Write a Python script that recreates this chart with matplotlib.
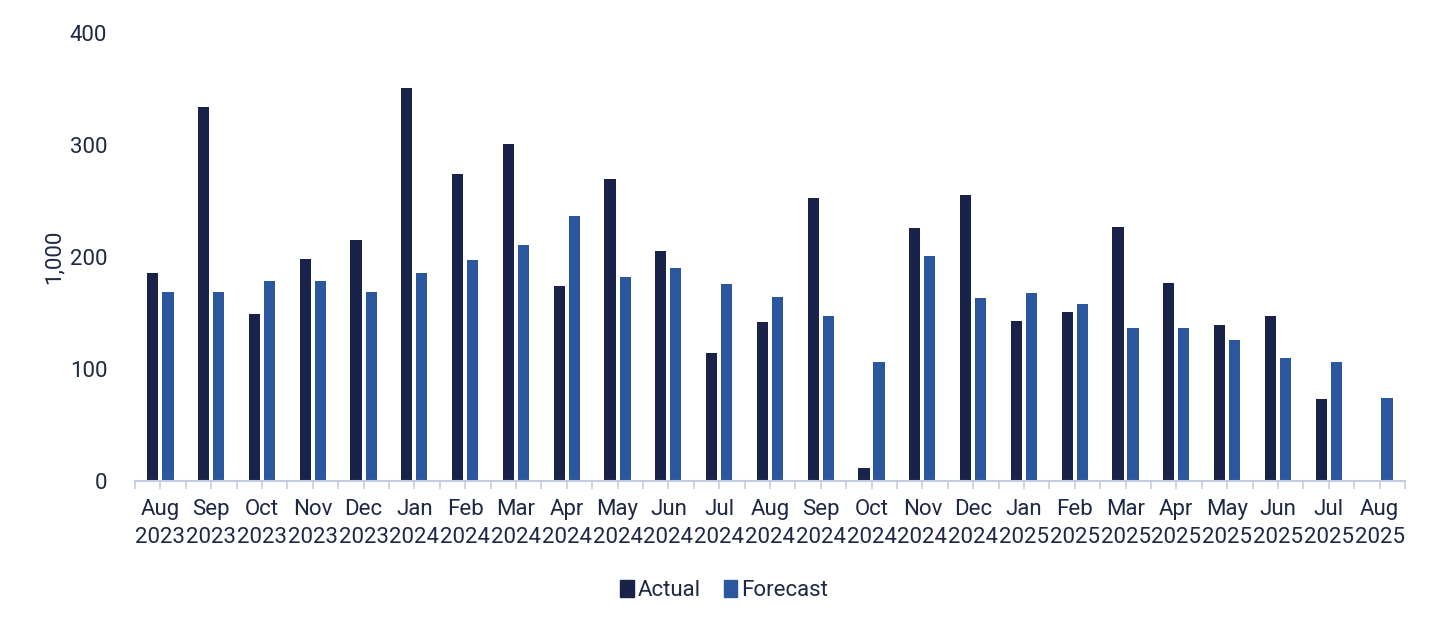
import numpy as np
import matplotlib.pyplot as plt
from matplotlib.patches import Patch
from matplotlib.ticker import MultipleLocator

months = ["Aug", "Sep", "Oct", "Nov", "Dec", "Jan", "Feb", "Mar", "Apr", "May", "Jun", "Jul", "Aug",
          "Sep", "Oct", "Nov", "Dec", "Jan", "Feb", "Mar", "Apr", "May", "Jun", "Jul", "Aug"]
years = ["2023"] * 5 + ["2024"] * 12 + ["2025"] * 8
actual = [186, 334, 149, 198, 215, 351, 274, 301, 174, 270, 205, 114, 142,
          253, 12, 226, 255, 143, 151, 227, 177, 139, 147, 73, np.nan]
forecast = [169, 169, 179, 179, 169, 186, 197, 211, 237, 182, 190, 176, 164,
            147, 106, 201, 163, 168, 158, 137, 137, 126, 110, 106, 74]

navy = "#19234a"
blue = "#2a579e"
text_col = "#1e2846"
axis_col = "#c3cce2"

plt.rcParams["font.family"] = ["Roboto", "DejaVu Sans"]

fig = plt.figure(figsize=(14.4, 6.34), dpi=100)
ax = fig.add_axes([0.09375, 0.2413, 0.8819, 0.7067])

x = np.arange(len(months))
w = 0.22
ax.bar(x - 0.148, actual, w, color=navy)
ax.bar(x + 0.148, forecast, w, color=blue)

ax.set_xlim(-0.5, len(months) - 0.5)
ax.set_ylim(0, 400)
ax.set_yticks([0, 100, 200, 300, 400])
ax.set_xticks(x)
ax.set_xticklabels([f"{m}\n{y}" for m, y in zip(months, years)], linespacing=1.45)
ax.xaxis.set_minor_locator(MultipleLocator(0.5))

for s in ["top", "right", "left"]:
    ax.spines[s].set_visible(False)
ax.spines["bottom"].set_color(axis_col)
ax.spines["bottom"].set_linewidth(1.5)
ax.tick_params(axis="x", which="both", length=6, color=axis_col, width=1.2,
               labelsize=16, labelcolor=text_col, pad=7)
ax.tick_params(axis="y", length=0, labelsize=16, labelcolor=text_col, pad=20)
ax.set_ylabel("1,000", fontsize=16, color=text_col, labelpad=4)

handles = [Patch(color=navy, label="Actual"), Patch(color=blue, label="Forecast")]
fig.legend(handles=handles, loc="center", bbox_to_anchor=(0.503, 0.068), ncol=2, frameon=False,
           fontsize=16, handlelength=0.6, handleheight=0.75, handletextpad=0.2, columnspacing=1.0,
           labelcolor=text_col)

fig.savefig("out.png", dpi=100)
